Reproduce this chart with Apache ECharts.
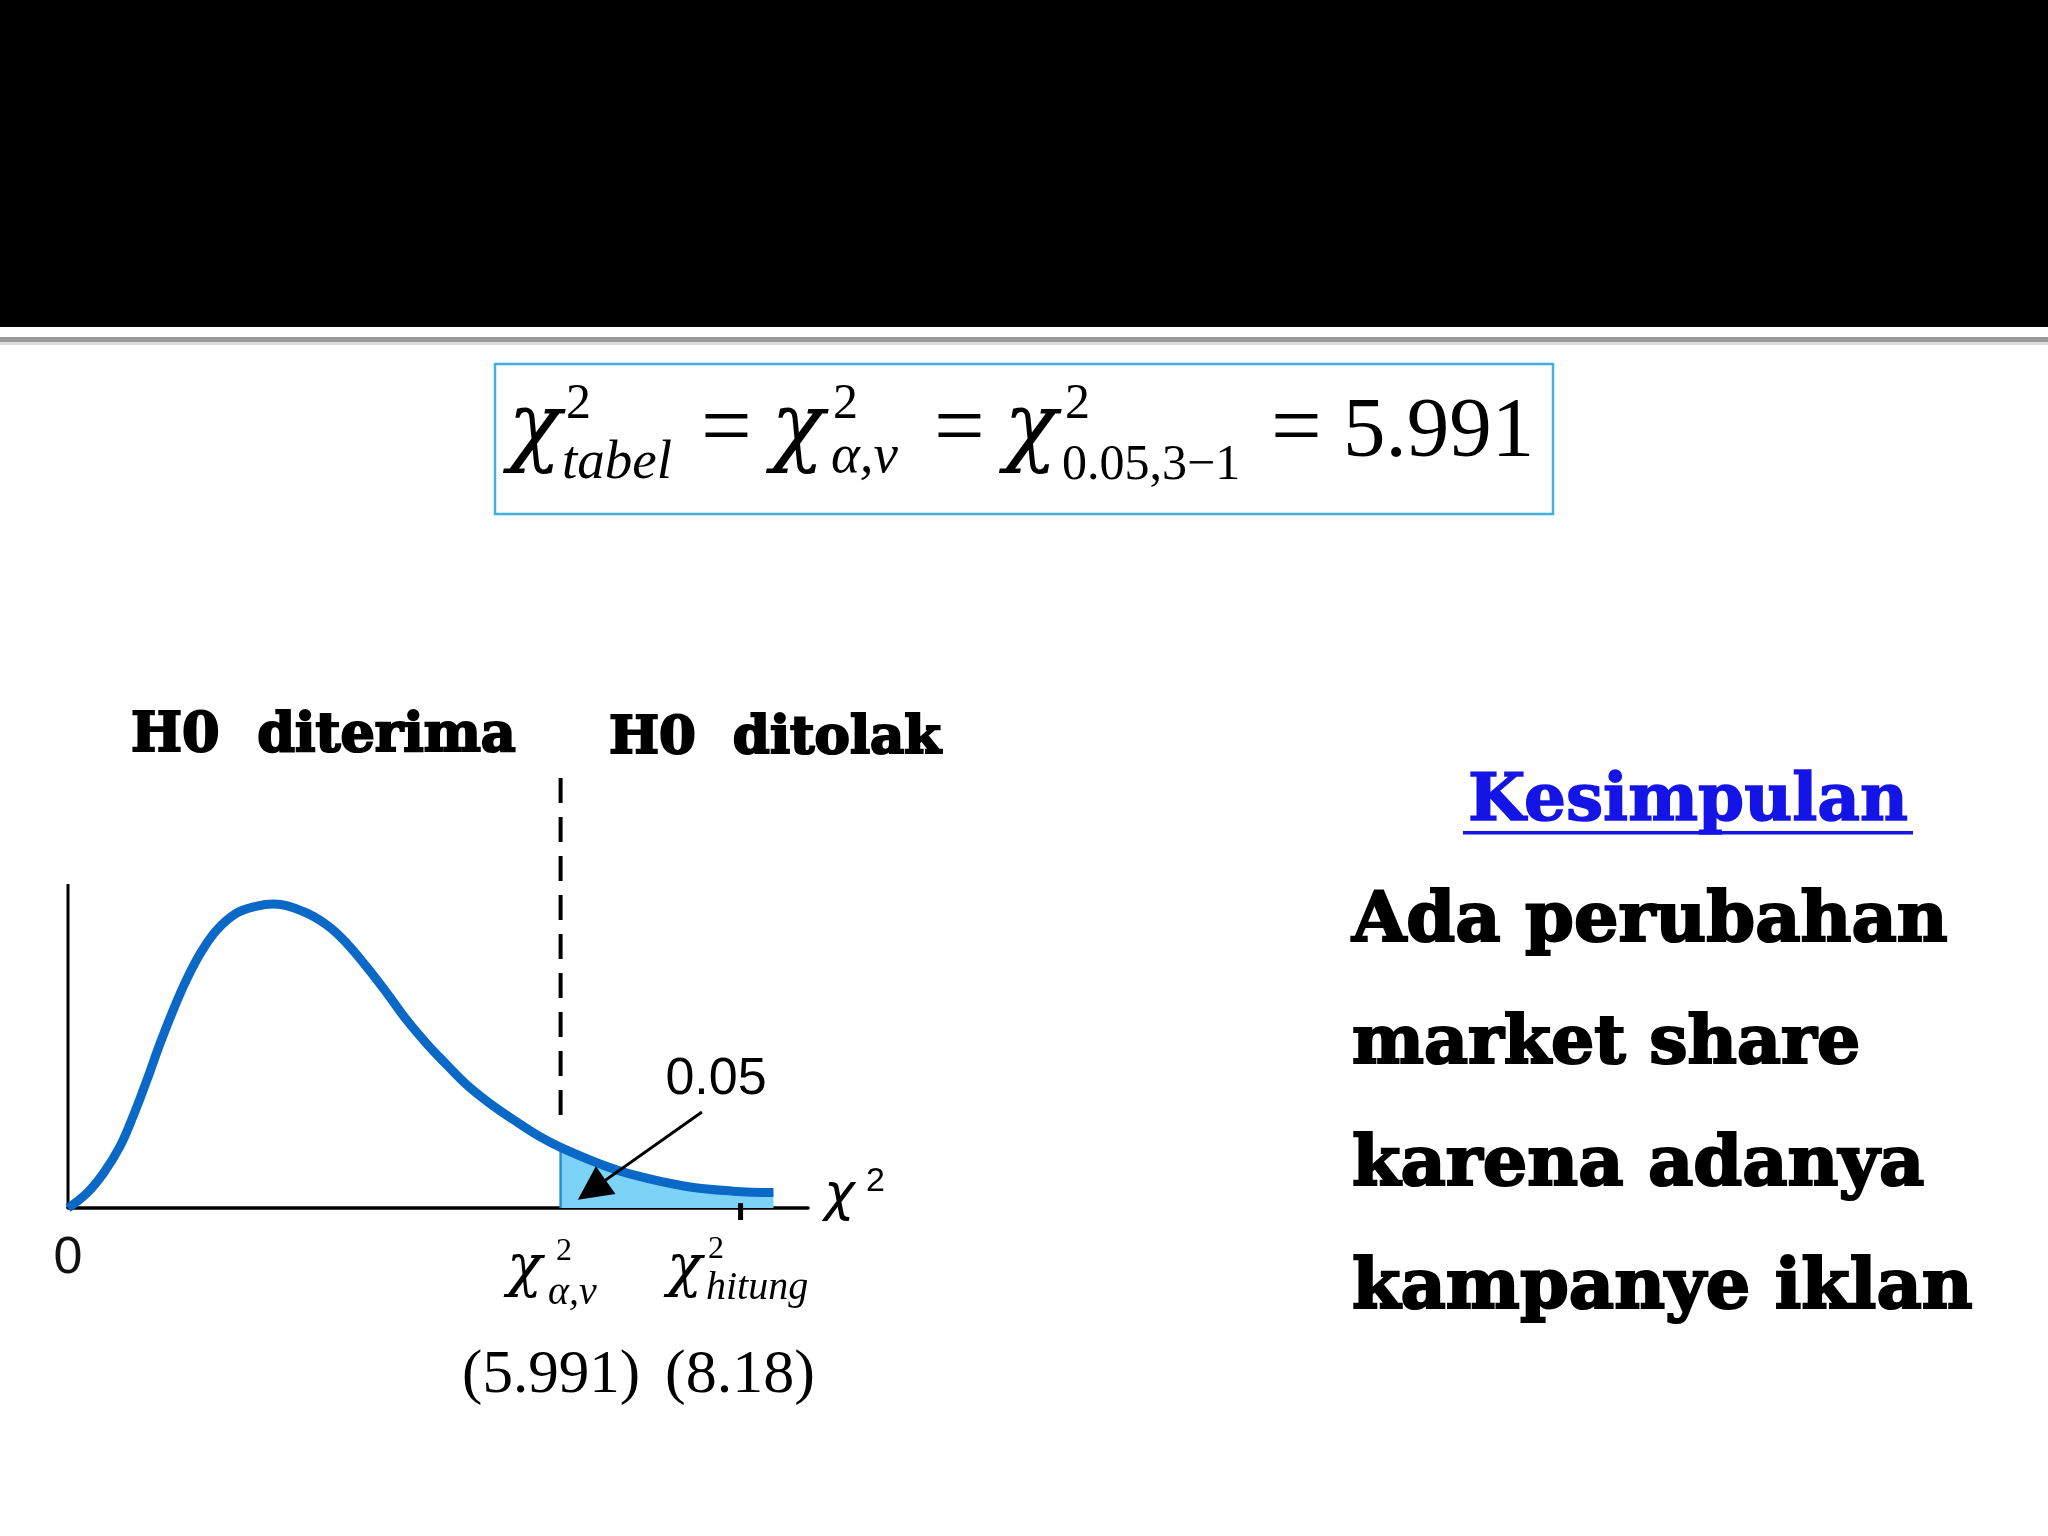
<!DOCTYPE html>
<html>
<head>
<meta charset="utf-8">
<script src="https://cdn.jsdelivr.net/npm/echarts@6/dist/echarts.min.js"></script>
<style>
html,body{margin:0;padding:0;background:#fff;}
#c{width:2048px;height:1536px;}
</style>
</head>
<body>
<div id="c"></div>
<script>
// ---- data ----
const curveX = [0, 0.23, 0.43, 0.63, 0.79, 0.96, 1.12, 1.28, 1.44, 1.61, 1.81, 2.05, 2.30, 2.50, 2.86, 3.15, 3.39, 3.63, 3.88, 4.12, 4.36, 4.61, 4.85, 5.13, 5.42, 5.74, 5.991, 6.47, 6.88, 7.49, 8.09, 8.58];
const curveY = [0, 0.046, 0.107, 0.189, 0.282, 0.395, 0.508, 0.611, 0.704, 0.786, 0.858, 0.910, 0.932, 0.938, 0.915, 0.873, 0.817, 0.745, 0.663, 0.580, 0.508, 0.441, 0.380, 0.323, 0.272, 0.220, 0.187, 0.136, 0.102, 0.068, 0.052, 0.048];
const chiTable = 5.991;
const chiHitung = 8.18;
const alphaLabel = '0.05';
const xTickLabels = ['0'];
const conclusionTitle = 'Kesimpulan';
const conclusionLines = ['Ada perubahan', 'market share', 'karena adanya', 'kampanye iklan'];
const regionLabels = ['H0  diterima', 'H0  ditolak'];

const curveData = curveX.map((x, i) => [x, curveY[i]]);
const tailData = curveData.filter(p => p[0] >= chiTable);

const chart = echarts.init(document.getElementById('c'), null, {renderer: 'canvas'});

function T(text, x, baseline, size, o) {
  o = o || {};
  const fam = o.family || 'Liberation Serif';
  const st = {
    text: text, x: x, y: baseline - 0.34 * size,
    font: (o.style || 'normal') + ' ' + (o.weight || 'normal') + ' ' + size + 'px "' + fam + '"',
    fill: o.color || '#000',
    textAlign: o.align || 'left', textVerticalAlign: 'middle',
    align: o.align || 'left', verticalAlign: 'middle'
  };
  if (o.stroke) { st.stroke = o.color || '#000'; st.lineWidth = o.stroke; }
  return {type: 'text', z: 100, style: st};
}

const heavy = {family: 'DejaVu Serif', weight: 'bold', stroke: 2.2};
const chi = {family: 'DejaVu Serif', style: 'italic'};
const graphics = [
  {type: 'rect', shape: {x: 0, y: 0, width: 2048, height: 327}, style: {fill: '#000'}, z: 0},
  {type: 'rect', shape: {x: 0, y: 337, width: 2048, height: 5}, style: {fill: '#9a9a9a'}, z: 0},
  {type: 'rect', shape: {x: 0, y: 342, width: 2048, height: 3}, style: {fill: '#dcdcdc'}, z: 0},
  {type: 'rect', shape: {x: 495, y: 364, width: 1058, height: 150}, style: {fill: 'none', stroke: '#3fb0e0', lineWidth: 2.5}, z: 1},
  // formula
  T('\u03C7', 508, 462, 88, chi),
  T('2', 566, 422, 50),
  T('tabel', 562, 482, 55, {style: 'italic'}),
  T('=', 701, 463, 90),
  T('\u03C7', 771, 462, 88, chi),
  T('2', 833, 422, 50),
  T('\u03B1,v', 831, 476, 55, {style: 'italic'}),
  T('=', 934, 463, 90),
  T('\u03C7', 1004, 462, 88, chi),
  T('2', 1065, 422, 50),
  T('0.05,3\u22121', 1062, 483, 50),
  T('=', 1271, 463, 90),
  T(String(chiTable), 1343, 463, 85),
  // region labels
  T(regionLabels[0], 131, 755, 54, heavy),
  T(regionLabels[1], 609, 757, 53, heavy),
  // chart annotations
  T(alphaLabel, 716, 1097, 52, {family: 'Liberation Sans', align: 'center'}),
  T('\u03C7', 824, 1214, 52, {family: 'DejaVu Sans', style: 'italic'}),
  T('2', 866, 1193, 34, {family: 'Liberation Sans'}),
  T('\u03C7', 507, 1290, 58, chi),
  T('2', 556, 1262, 32),
  T('\u03B1,v', 548, 1307, 40, {style: 'italic'}),
  T('\u03C7', 667, 1290, 58, chi),
  T('2', 708, 1260, 32),
  T('hitung', 706, 1302, 40, {style: 'italic'}),
  T('(' + chiTable + ')', 551, 1397, 61, {align: 'center'}),
  T('(' + chiHitung + ')', 740, 1397, 62, {align: 'center'}),
  // conclusion
  T(conclusionTitle, 1688, 825, 66, {family: 'DejaVu Serif', weight: 'bold', color: '#1414e6', align: 'center', stroke: 1.5}),
  {type: 'rect', shape: {x: 1463, y: 831, width: 450, height: 3.5}, style: {fill: '#1414e6'}, z: 100}
];
const baselines = [947, 1068, 1191, 1314];
const lineSizes = [70, 68, 70, 70];
conclusionLines.forEach((s, i) => graphics.push(T(s, 1352, baselines[i], lineSizes[i], heavy)));

const option = {
  backgroundColor: '#fff',
  animation: false,
  grid: {left: 68, right: 1240, top: 754.4, bottom: 295.6},
  xAxis: {
    type: 'value', min: 0, max: 9, interval: 1,
    axisLine: {show: true, onZero: true, lineStyle: {color: '#000', width: 3.5}},
    axisTick: {show: false}, splitLine: {show: false},
    axisLabel: {
      show: true, margin: -8, fontSize: 52, color: '#111', fontFamily: 'Liberation Sans',
      formatter: v => (v === 0 ? xTickLabels[0] : '')
    }
  },
  yAxis: {type: 'value', min: -0.1, max: 1.4, show: false},
  series: [
    {
      name: 'tail', type: 'line', data: tailData, smooth: 0.4, symbol: 'none', z: 1,
      lineStyle: {width: 0}, areaStyle: {color: '#7dd3f7', opacity: 1, origin: 0}
    },
    {
      name: 'tailEdge', type: 'line', data: [[chiTable, 0], [chiTable, curveY[curveX.indexOf(chiTable)]]],
      symbol: 'none', z: 2, lineStyle: {color: '#2390d8', width: 2.5}
    },
    {
      name: 'curve', type: 'line', data: curveData, smooth: 0.4, symbol: 'none', z: 3,
      lineStyle: {color: '#0a68c6', width: 9, cap: 'butt'}
    },
    {
      name: 'yAxisLine', type: 'line', data: [[0, 0], [0, 1]], symbol: 'none', z: 2,
      lineStyle: {color: '#000', width: 3}
    },
    {
      name: 'critical', type: 'line', data: [[chiTable, 0.287], [chiTable, 1.33]], symbol: 'none', z: 2,
      lineStyle: {color: '#000', width: 4, type: [25, 14]}
    },
    {
      name: 'hitungTick', type: 'line', data: [[chiHitung, 0.015], [chiHitung, -0.037]], symbol: 'none', z: 4,
      clip: false, lineStyle: {color: '#000', width: 5}
    },
    {
      name: 'arrow', type: 'lines', coordinateSystem: 'cartesian2d', z: 5,
      symbol: ['none', 'triangle'], symbolSize: 34,
      lineStyle: {color: '#000', width: 3, opacity: 1, curveness: 0},
      itemStyle: {color: '#000'},
      data: [{coords: [[7.71, 0.296], [6.37, 0.056]]}]
    }
  ],
  graphic: graphics
};
chart.setOption(option);
</script>
</body>
</html>
